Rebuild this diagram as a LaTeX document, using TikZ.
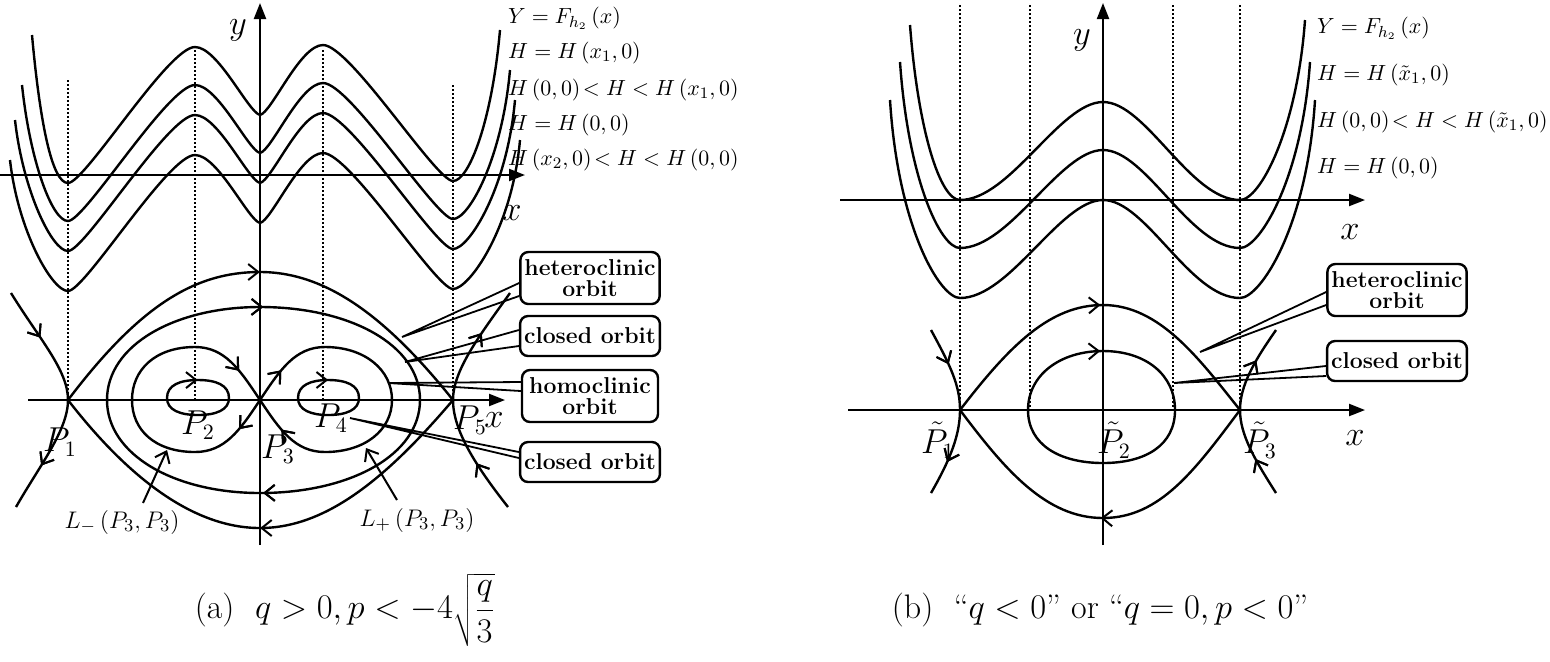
\documentclass[tikz,border=0pt]{standalone}
\usetikzlibrary{arrows.meta,decorations.markings}
\begin{document}
\begin{tikzpicture}[x=0.5pt,y=-0.5pt,line width=1.2pt,
  axis/.style={line width=1.1pt,-{Triangle[length=8pt,width=6pt]}},
  dots/.style={line width=1pt,densely dotted},
  marr/.style={postaction={decorate},decoration={markings,mark=at position #1 with {\arrow{Straight Barb[length=5pt,width=8pt,line width=1pt]}}}},
  obox/.style={draw,rounded corners=4pt,line width=1.2pt,align=center,inner sep=2pt,font=\bfseries\fontsize{11.5}{10.5}\selectfont,minimum width=68pt},
  wedge/.style={line width=0.9pt},
  lab/.style={font=\fontsize{11}{11}\selectfont,anchor=west,inner sep=0pt},
  plab/.style={font=\fontsize{16}{16}\selectfont,inner sep=0pt}]
\useasboundingbox (0,0) rectangle (1550,661);
% ===== (a) top =====
\foreach \xx/\yy in {68/80,195/50,323/50,453/85}{\draw[dots] (\xx,\yy) -- (\xx,400);}
\draw[axis] (0,175) -- (525,175);
\draw[axis] (260,545) -- (260,3);
\node[plab,font=\fontsize{19}{19}\selectfont] (ya) at (238,30) {$y$};
\node[plab,font=\fontsize{19}{19}\selectfont] (xa) at (512,213) {$x$};
\foreach \d/\el/\ely/\er/\ery in {0/32/35/500/30, 38/22/85/510/70, 68/15/120/515/100, 108/10/160/520/140}{
 \draw ({\el},{\ely}) .. controls ({\el+8},{183+\d-60}) and (52,{183+\d}) .. (68,{183+\d})
   .. controls (85,{183+\d}) and (168,{47+\d}) .. (195,{47+\d})
   .. controls (218,{47+\d}) and (248,{112+\d}) .. (260,{115+\d})
   .. controls (272,{112+\d}) and (300,{45+\d}) .. (323,{45+\d})
   .. controls (350,{45+\d}) and (436,{181+\d}) .. (453,{181+\d})
   .. controls (469,{181+\d}) and ({\er-8},{181+\d-60}) .. ({\er},{\ery});}
\node[lab] (l1) at (507,18) {$Y=F_{h_2}\left(x\right)$};
\node[lab] (l2) at (507,53) {$H=H\left(x_1,0\right)$};
\node[lab] (l3) at (507,90) {$H\left(0,0\right)\!<H<H\left(x_1,0\right)$};
\node[lab] (l4) at (507,125) {$H=H\left(0,0\right)$};
\node[lab] (l5) at (507,160) {$H\left(x_2,0\right)\!<H<H\left(0,0\right)$};
% ===== (a) bottom =====
\draw[axis] (28,400) -- (505,400);
\node[plab,font=\fontsize{19}{19}\selectfont] (x2a) at (494,420) {$x$};
\draw[marr=0.5] (68,400) .. controls (140,305) and (195,272) .. (260,272) .. controls (325,272) and (385,315) .. (453,400);
\draw[marr=0.5] (453,400) .. controls (385,480) and (325,528) .. (260,528) .. controls (195,528) and (130,480) .. (68,400);
\draw[marr=0.25,marr=0.75] (107,400) .. controls (107,345) and (175,307) .. (260,307) .. controls (350,307) and (420,345) .. (420,400) .. controls (420,455) and (350,493) .. (260,493) .. controls (175,493) and (107,455) .. (107,400) -- cycle;
\draw[marr=0.1,marr=0.9] (260,400) .. controls (240,430) and (225,452) .. (195,452) .. controls (155,452) and (132,430) .. (132,400) .. controls (132,370) and (155,347) .. (195,347) .. controls (225,347) and (240,370) .. (260,400);
\draw[marr=0.1,marr=0.9] (260,400) .. controls (280,370) and (295,347) .. (325,347) .. controls (365,347) and (392,370) .. (392,400) .. controls (392,430) and (365,452) .. (325,452) .. controls (295,452) and (280,430) .. (260,400);
\draw[marr=0.25] (167,398) .. controls (167,385) and (180,380) .. (198,380) .. controls (216,380) and (229,385) .. (229,398) .. controls (229,410) and (216,415) .. (198,415) .. controls (180,415) and (167,410) .. (167,398) -- cycle;
\draw[marr=0.25] (298,398) .. controls (298,385) and (311,380) .. (328,380) .. controls (346,380) and (359,385) .. (359,398) .. controls (359,410) and (346,415) .. (328,415) .. controls (311,415) and (298,410) .. (298,398) -- cycle;
\draw[marr=0.22,marr=0.8] (11,293) .. controls (40,340) and (68,370) .. (68,400) .. controls (68,430) and (40,465) .. (16,507);
\draw[marr=0.22,marr=0.8] (508,507) .. controls (475,465) and (453,430) .. (453,400) .. controls (453,370) and (480,335) .. (510,293);
\node[plab] (p1) at (60,442) {$P_1$};
\node[plab] (p2) at (198,425) {$P_2$};
\node[plab] (p3) at (278,449) {$P_3$};
\node[plab] (p4) at (331,418) {$P_4$};
\node[plab] (p5) at (470,420) {$P_5$};
\node[font=\fontsize{13}{13}\selectfont,inner sep=1pt] (lm) at (122,522) {$L_{-}\left(P_3,P_3\right)$};
\node[font=\fontsize{13}{13}\selectfont,inner sep=1pt] (lp) at (417,520) {$L_{+}\left(P_3,P_3\right)$};
\coordinate (lmt) at (167,450);
\coordinate (lpt) at (366,448);
\draw[line width=1pt,-{Straight Barb[length=5pt,width=8pt]}] (143,503) -- (lmt);
\draw[line width=1pt,-{Straight Barb[length=5pt,width=8pt]}] (397,500) -- (lpt);
\node[obox,minimum height=26pt] (ha) at (590,278) {heteroclinic\\orbit};
\node[obox,minimum height=20pt] (ca) at (590,336) {closed orbit};
\node[obox,minimum height=26pt] (ma) at (590,396) {homoclinic\\orbit};
\node[obox,minimum height=20pt] (cb) at (590,462) {closed orbit};
\coordinate (ta1) at (402,337); \coordinate (ta2) at (405,362);
\coordinate (ta3) at (388,383); \coordinate (ta4) at (350,418);
\draw[wedge] (ta1) -- (ha.west |- 0,283) (ta1) -- (ha.west |- 0,296);
\draw[wedge] (ta2) -- (ca.west |- 0,330) (ta2) -- (ca.west |- 0,346);
\draw[wedge] (ta3) -- (ma.west |- 0,382) (ta3) -- (ma.west |- 0,391);
\draw[wedge] (ta4) -- (cb.west |- 0,452) (ta4) -- (cb.west |- 0,458);
\node[font=\fontsize{17}{17}\selectfont] (capa) at (345,610) {(a)\ \ $q>0,p<-4\sqrt{\displaystyle\frac{q}{3}}$};
% ===== (b) top =====
\foreach \xx in {960,1030,1173,1240}{\draw[dots] (\xx,5) -- (\xx,410);}
\draw[axis] (840,200) -- (1365,200);
\draw[axis] (1103,545) -- (1103,3);
\node[plab,font=\fontsize{19}{19}\selectfont] (yb) at (1082,40) {$y$};
\node[plab,font=\fontsize{19}{19}\selectfont] (xb) at (1350,232) {$x$};
\foreach \d/\el/\ely/\er/\ery in {0/910/25/1305/20, 48/900/62/1310/62, 98/890/100/1315/100}{
 \draw ({\el},{\ely}) .. controls ({\el+8},{200+\d-70}) and (940,{200+\d}) .. (960,{200+\d})
   .. controls (1010,{200+\d}) and (1060,{102+\d}) .. (1103,{102+\d})
   .. controls (1146,{102+\d}) and (1190,{200+\d}) .. (1240,{200+\d})
   .. controls (1260,{200+\d}) and ({\er-8},{200+\d-70}) .. ({\er},{\ery});}
\node[lab] (m1) at (1316,28) {$Y=F_{h_2}\left(x\right)$};
\node[lab] (m2) at (1316,75) {$H=H\left(\tilde{x}_1,0\right)$};
\node[lab] (m3) at (1316,122) {$H\left(0,0\right)\!<H<H\left(\tilde{x}_1,0\right)$};
\node[lab] (m4) at (1316,168) {$H=H\left(0,0\right)$};
% ===== (b) bottom =====
\draw[axis] (848,410) -- (1365,410);
\node[plab,font=\fontsize{19}{19}\selectfont] (x2b) at (1355,438) {$x$};
\draw[marr=0.5] (960,410) .. controls (1010,345) and (1050,305) .. (1103,305) .. controls (1160,305) and (1200,360) .. (1240,410);
\draw[marr=0.5] (1240,410) .. controls (1195,470) and (1160,518) .. (1103,518) .. controls (1046,518) and (1005,470) .. (960,410);
\draw[marr=0.25] (1028,410) .. controls (1028,375) and (1060,351) .. (1103,351) .. controls (1146,351) and (1175,375) .. (1175,410) .. controls (1175,445) and (1146,463) .. (1103,463) .. controls (1060,463) and (1028,445) .. (1028,410) -- cycle;
\draw[marr=0.22,marr=0.8] (931,330) .. controls (950,365) and (960,385) .. (960,410) .. controls (960,435) and (950,460) .. (931,493);
\draw[marr=0.22,marr=0.8] (1276,493) .. controls (1255,460) and (1240,435) .. (1240,410) .. controls (1240,385) and (1255,360) .. (1276,330);
\node[plab] (q1) at (938,440) {$\tilde{P}_1$};
\node[plab] (q2) at (1114,440) {$\tilde{P}_2$};
\node[plab] (q3) at (1260,440) {$\tilde{P}_3$};
\node[obox,minimum height=26pt] (hb) at (1397,290) {heteroclinic\\orbit};
\node[obox,minimum height=20pt] (cc) at (1397,361) {closed orbit};
\coordinate (tb1) at (1200,352); \coordinate (tb2) at (1174,383);
\draw[wedge] (tb1) -- (hb.west |- 0,292) (tb1) -- (hb.west |- 0,305);
\draw[wedge] (tb2) -- (cc.west |- 0,366) (tb2) -- (cc.west |- 0,376);
\node[font=\fontsize{17}{17}\selectfont] (capb) at (1100,610) {(b)\ \ ``$q<0$'' or ``$q=0,p<0$''};
\end{tikzpicture}
\end{document}
